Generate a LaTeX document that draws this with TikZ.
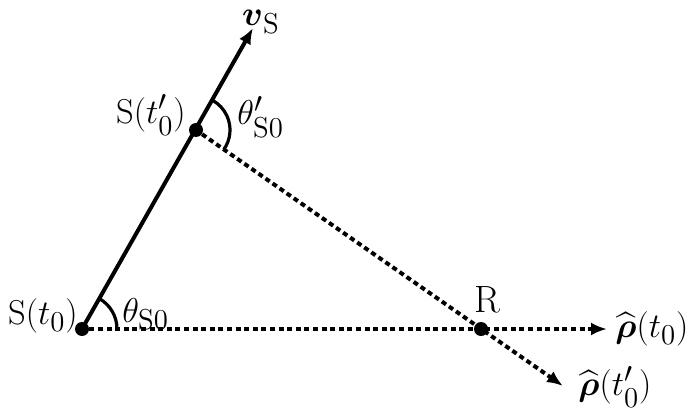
\documentclass[tikz,border=0pt]{standalone}
\usepackage{amsmath}
\usetikzlibrary{arrows.meta}

\begin{document}
\begin{tikzpicture}[x=0.5pt,y=0.5pt]
        \tikzstyle{dot}=[circle,fill,inner sep=0pt,minimum size=7pt]
        \tikzstyle{solidline}=[line width=2pt]
        \tikzstyle{dotline}=[line width=2pt,dash pattern=on 2.5pt off 1.8pt]
        \tikzstyle{tip}=[-{Latex[length=8pt,width=6.5pt]}]
        \tikzstyle{lbl}=[font=\fontsize{19}{23}\selectfont,inner sep=0pt]
        \useasboundingbox (0,0) rectangle (700,413);
        \node[dot] (S0) at (82,84) {};
        \node[dot] (S1) at (196,283) {};
        \node[dot] (R) at (481,84) {};
        \coordinate (V) at (253,385);
        \coordinate (P0) at (607,84);
        \coordinate (P1) at (563,27);
        \draw[solidline,tip] (S0.center) -- (V);
        \draw[dotline,tip] (S0) -- (P0);
        \draw[dotline,tip] (S1) -- (P1);
        \draw[line width=1.6pt] (S0.center) ++(35,0) arc[start angle=0,end angle=60.2,radius=35];
        \draw[line width=1.6pt] (S1.center) ++(-34.9:34) arc[start angle=-34.9,end angle=60.2,radius=34];
        \node[lbl] (vS) at (261,391) {$\boldsymbol{v}_{\mathrm{S}}$};
        \node[lbl,anchor=east] (S1lbl) at (186,298) {$\mathrm{S}(t_0')$};
        \node[lbl,anchor=west] (th1) at (237,296) {$\theta_{\mathrm{S}0}'$};
        \node[lbl,anchor=east] (S0lbl) at (78,97) {$\mathrm{S}(t_0)$};
        \node[lbl,anchor=west] (th0) at (122,99) {$\theta_{\mathrm{S}0}$};
        \node[lbl] (Rlbl) at (487,113) {R};
        \node[lbl,anchor=west] (rho0) at (615,84) {$\widehat{\boldsymbol{\rho}}(t_0)$};
        \node[lbl,anchor=west] (rho1) at (578,26) {$\widehat{\boldsymbol{\rho}}(t_0')$};
\end{tikzpicture}
\end{document}
